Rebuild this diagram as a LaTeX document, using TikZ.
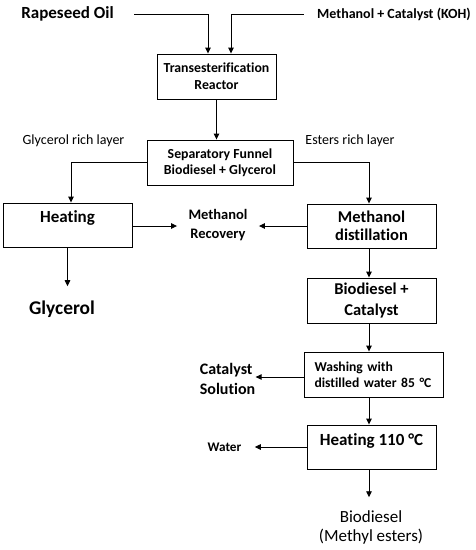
\documentclass[tikz,border=0pt]{standalone}
\usepackage{fontspec}
\setmainfont[Ligatures=NoCommon]{Carlito}
\usetikzlibrary{arrows.meta,calc}
\begin{document}
\begin{tikzpicture}[x=1pt,y=-1pt,
  line width=0.9pt,
  arr/.style={-{Triangle[length=6pt,width=5.5pt]}},
  box/.style={draw,inner sep=0pt,align=center,font=\bfseries},
  lbl/.style={inner sep=0pt,align=center}]
\useasboundingbox (0,0) rectangle (476,550);
% inputs
\node[lbl,font=\fontsize{17}{18}\selectfont\bfseries] (rape) at (67.5,14) {Rapeseed Oil};
\node[lbl,font=\fontsize{14}{14}\selectfont\bfseries] (meth) at (394,14) {Methanol + Catalyst (KOH)};
% boxes
\node[box,minimum width=119,minimum height=45,font=\fontsize{13.8}{17}\selectfont\bfseries] (reac) at (216.5,76.5) {Transesterification\\Reactor};
\node[box,minimum width=146,minimum height=45,font=\fontsize{13.8}{16}\selectfont\bfseries] (sep) at (220,162.5) {Separatory Funnel\\Biodiesel + Glycerol};
\node[box,minimum width=129,minimum height=44] (heat) at (67.5,225) {};
\node[lbl,font=\fontsize{17}{18}\selectfont\bfseries] (heatt) at ([yshift=7pt]heat.center) {Heating};
\node[box,minimum width=129,minimum height=44,font=\fontsize{16.5}{18}\selectfont\bfseries] (md) at (371.5,226) {Methanol\\distillation};
\node[box,minimum width=129,minimum height=45,font=\fontsize{16.5}{21}\selectfont\bfseries] (bc) at (371.5,300.5) {Biodiesel +\\Catalyst};
\node[box,minimum width=139,minimum height=45,font=\fontsize{13.6}{16}\selectfont\bfseries,align=left,text width=118pt] (wash) at (373.5,374.5) {Washing with\\distilled water 85 °C};
\node[box,minimum width=129,minimum height=44] (h110) at (371.5,447) {};
\node[lbl,font=\fontsize{17}{18}\selectfont\bfseries] (h110t) at ([yshift=6pt]h110.center) {Heating 110 °C};
% side labels
\node[lbl,font=\fontsize{14}{14}\selectfont] (glr) at (73.5,141) {Glycerol rich layer};
\node[lbl,font=\fontsize{14}{14}\selectfont] (err) at (350,141) {Esters rich layer};
\node[lbl,inner xsep=11pt,font=\fontsize{14.5}{19}\selectfont\bfseries] (rec) at (218,225.5) {Methanol\\Recovery};
\node[lbl,inner ysep=14pt,font=\fontsize{19.4}{20}\selectfont\bfseries] (glyc) at (62,309) {Glycerol};
\node[lbl,align=left,font=\fontsize{16}{20}\selectfont\bfseries] (cat) at (227.5,379) {Catalyst\\Solution};
\node[lbl,inner xsep=13pt,font=\fontsize{13.2}{14}\selectfont\bfseries] (water) at (224.5,447) {Water};
\node[lbl,inner ysep=13pt,font=\fontsize{17}{19}\selectfont] (bio) at (371,527.5) {Biodiesel\\(Methyl esters)};
% connectors
\draw[arr] ([xshift=20]rape.east) -| ([xshift=-8.5]reac.north);
\draw[arr] ([xshift=-13]meth.west) -| ([xshift=14.5]reac.north);
\draw[arr] (reac.south) -- (reac.south |- sep.north);
\draw[arr] (sep.west) -| ([xshift=3.5]heat.north);
\draw[arr] (sep.east) -| ([xshift=-2.5]md.north);
\draw[arr] ([yshift=-1]heat.east) -- ([yshift=-0.5]rec.west);
\draw[arr] (md.west) -- ([yshift=-0.5]rec.east);
\draw[arr] (heat.south) -- (heat.south |- glyc.north);
\draw[arr] ([xshift=-2.5]md.south) -- ([xshift=-2.5]md.south |- bc.north);
\draw[arr] ([xshift=-2.5]bc.south) -- ([xshift=-2.5]bc.south |- wash.north);
\draw[arr] ([yshift=-2.5]wash.west) -- ([yshift=-2.5]wash.west -| cat.east);
\draw[arr] ([xshift=-4.5]wash.south) -- ([xshift=-4.5]wash.south |- h110.north);
\draw[arr] (h110.west) -- (water.east);
\draw[arr] ([xshift=-2.5]h110.south) -- ([xshift=-2.5]h110.south |- bio.north);
\end{tikzpicture}
\end{document}
